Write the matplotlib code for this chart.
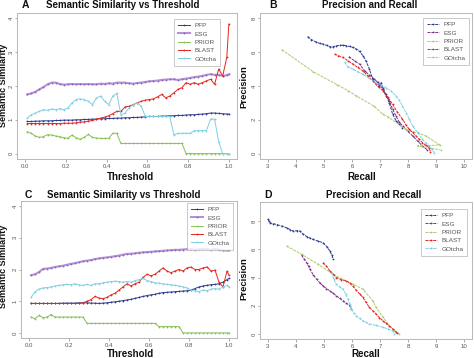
import numpy as np
import matplotlib
matplotlib.use("Agg")
import matplotlib.pyplot as plt

plt.rcParams['font.family'] = ['Liberation Sans', 'DejaVu Sans']

methods = ["PFP", "ESG", "PRIOR", "BLAST", "GOtcha"]

threshold = [0.01, 0.03, 0.05, 0.07, 0.09, 0.11, 0.13, 0.15, 0.17, 0.19,
             0.21, 0.23, 0.25, 0.27, 0.29, 0.31, 0.33, 0.35, 0.37, 0.39,
             0.41, 0.43, 0.45, 0.47, 0.49, 0.51, 0.53, 0.55, 0.57, 0.59,
             0.61, 0.63, 0.65, 0.67, 0.69, 0.71, 0.73, 0.75, 0.77, 0.79,
             0.81, 0.83, 0.85, 0.87, 0.89, 0.91, 0.93, 0.95, 0.97, 0.99, 1.00]

# ---- Panel A: semantic similarity vs threshold ----
A_PFP = [0.95, 0.95, 0.96, 0.96, 0.97, 0.97, 0.97, 0.98, 0.98, 0.99,
         0.99, 0.99, 1.00, 1.00, 1.01, 1.01, 1.02, 1.02, 1.03, 1.03,
         1.04, 1.04, 1.05, 1.05, 1.06, 1.06, 1.07, 1.07, 1.08, 1.09,
         1.10, 1.10, 1.10, 1.11, 1.11, 1.12, 1.12, 1.13, 1.13, 1.14,
         1.15, 1.15, 1.16, 1.17, 1.18, 1.20, 1.20, 1.19, 1.18, 1.17, 1.17]
A_ESG = [1.75, 1.78, 1.83, 1.90, 1.97, 2.05, 2.10, 2.10, 2.06, 2.04,
         2.05, 2.06, 2.05, 2.06, 2.05, 2.06, 2.05, 2.05, 2.07, 2.06,
         2.08, 2.07, 2.10, 2.10, 2.10, 2.08, 2.07, 2.09, 2.10, 2.12,
         2.14, 2.15, 2.16, 2.18, 2.19, 2.20, 2.20, 2.18, 2.20, 2.22,
         2.24, 2.26, 2.28, 2.30, 2.33, 2.35, 2.33, 2.33, 2.30, 2.32, 2.35]
A_PRIOR = [0.65, 0.60, 0.52, 0.48, 0.50, 0.56, 0.55, 0.52, 0.50, 0.47,
           0.45, 0.55, 0.47, 0.42, 0.48, 0.57, 0.48, 0.46, 0.45, 0.45,
           0.45, 0.60, 0.60, 0.30, 0.30, 0.30, 0.30, 0.30, 0.30, 0.30,
           0.30, 0.30, 0.30, 0.30, 0.30, 0.30, 0.30, 0.30, 0.30, 0.00,
           0.00, 0.00, 0.00, 0.00, 0.00, 0.00, 0.00, 0.00, 0.00, 0.00, 0.00]
A_BLAST = [0.89, 0.89, 0.89, 0.89, 0.89, 0.89, 0.89, 0.89, 0.89, 0.90,
           0.90, 0.90, 0.91, 0.93, 0.94, 0.96, 0.98, 1.02, 1.05, 1.08,
           1.12, 1.18, 1.25, 1.25, 1.38, 1.40, 1.45, 1.50, 1.55, 1.58,
           1.60, 1.62, 1.68, 1.75, 1.65, 1.70, 1.80, 1.90, 1.95, 2.10,
           2.05, 2.10, 2.05, 2.10, 2.15, 2.20, 2.05, 2.50, 2.30, 2.85, 3.83]
A_GOtcha = [1.05, 1.15, 1.20, 1.25, 1.30, 1.28, 1.32, 1.30, 1.33, 1.30,
            1.35, 1.50, 1.60, 1.62, 1.60, 1.55, 1.45, 1.65, 1.70, 1.55,
            1.45, 1.70, 1.78, 1.15, 1.20, 1.35, 1.45, 1.50, 1.40, 1.10,
            1.10, 1.10, 1.10, 1.10, 1.10, 1.10, 0.55, 0.60, 0.60, 0.60,
            0.60, 0.68, 0.68, 0.68, 0.68, 1.02, 1.02, 0.35, 0.00, 0.00, 0.00]

# ---- Panel C: semantic similarity vs threshold ----
C_PFP = [0.93, 0.93, 0.93, 0.93, 0.93, 0.93, 0.93, 0.93, 0.94, 0.94,
         0.94, 0.94, 0.95, 0.95, 0.95, 0.94, 0.94, 0.93, 0.94, 0.95,
         0.97, 0.98, 1.00, 1.02, 1.04, 1.06, 1.09, 1.12, 1.15, 1.18,
         1.20, 1.22, 1.25, 1.27, 1.28, 1.29, 1.30, 1.31, 1.32, 1.33,
         1.35, 1.40, 1.45, 1.48, 1.50, 1.52, 1.53, 1.55, 1.60, 1.68, 1.72]
C_ESG = [1.82, 1.85, 1.92, 2.02, 2.03, 2.05, 2.08, 2.10, 2.12, 2.15,
         2.18, 2.20, 2.23, 2.26, 2.28, 2.30, 2.33, 2.35, 2.37, 2.38,
         2.40, 2.42, 2.44, 2.47, 2.49, 2.50, 2.51, 2.53, 2.54, 2.55,
         2.56, 2.57, 2.58, 2.59, 2.60, 2.61, 2.62, 2.62, 2.63, 2.64,
         2.64, 2.63, 2.64, 2.65, 2.64, 2.63, 2.65, 2.63, 2.60, 2.60, 2.60]
C_PRIOR = [0.50, 0.45, 0.55, 0.48, 0.50, 0.58, 0.50, 0.50, 0.50, 0.50,
           0.50, 0.50, 0.50, 0.50, 0.30, 0.30, 0.30, 0.30, 0.30, 0.30,
           0.30, 0.30, 0.30, 0.30, 0.30, 0.30, 0.30, 0.30, 0.30, 0.30,
           0.30, 0.30, 0.20, 0.20, 0.20, 0.20, 0.20, 0.20, 0.00, 0.00,
           0.00, 0.00, 0.00, 0.00, 0.00, 0.00, 0.00, 0.00, 0.00, 0.00, 0.00]
C_BLAST = [0.93, 0.93, 0.93, 0.93, 0.93, 0.93, 0.93, 0.93, 0.93, 0.93,
           0.93, 0.93, 0.93, 0.95, 1.00, 1.05, 1.15, 1.10, 1.08, 1.12,
           1.20, 1.25, 1.35, 1.45, 1.55, 1.48, 1.55, 1.60, 1.75, 1.85,
           1.80, 1.85, 1.95, 2.05, 1.95, 1.90, 1.95, 2.00, 1.95, 2.05,
           2.08, 2.00, 2.00, 2.05, 2.08, 1.95, 1.98, 1.60, 1.45, 1.95, 1.82]
C_GOtcha = [1.12, 1.30, 1.38, 1.42, 1.43, 1.45, 1.48, 1.50, 1.52, 1.53,
            1.52, 1.55, 1.52, 1.50, 1.53, 1.50, 1.55, 1.55, 1.58, 1.60,
            1.62, 1.63, 1.62, 1.60, 1.62, 1.60, 1.65, 1.68, 1.72, 1.65,
            1.62, 1.58, 1.57, 1.55, 1.53, 1.52, 1.50, 1.48, 1.45, 1.42,
            1.35, 1.32, 1.30, 1.35, 1.33, 1.38, 1.40, 1.38, 1.45, 1.50, 1.45]

# ---- Panel B: precision and recall ----
B_PFP_rec = [4.42, 4.55, 4.70, 4.85, 4.97, 5.10, 5.21, 5.33, 5.44, 5.56, 5.68, 5.80, 5.92, 6.03, 6.15, 6.27,
             6.39, 6.50, 6.62, 6.74, 6.86, 6.92, 6.98, 7.04, 7.10, 7.21, 7.33, 7.45, 7.57, 7.69, 7.80]
B_PFP_prec = [6.92, 6.75, 6.62, 6.52, 6.48, 6.40, 6.32, 6.33, 6.38, 6.40, 6.42, 6.38, 6.34, 6.28, 6.19, 6.05,
              5.80, 5.49, 5.00, 4.40, 4.10, 4.25, 3.95, 4.20, 3.90, 3.50, 3.00, 2.33, 1.95, 1.74, 1.54]
B_ESG_rec = [5.89, 6.09, 6.27, 6.45, 6.62, 6.80, 6.98, 7.10, 7.21, 7.33, 7.45, 7.57, 7.69, 7.81, 7.98, 8.16,
             8.34, 8.51, 8.69]
B_ESG_prec = [5.73, 5.49, 5.30, 4.90, 4.64, 4.41, 4.11, 3.81, 3.42, 3.12, 2.63, 2.23, 1.84, 1.64, 1.34, 1.05,
              0.75, 0.45, 0.22]
B_PRIOR_rec = [3.50, 4.62, 5.48, 5.86, 6.15, 6.80, 7.10, 7.27, 7.92, 8.63, 9.13, 8.34, 9.16]
B_PRIOR_prec = [6.15, 4.84, 4.07, 3.72, 3.42, 2.79, 2.33, 2.19, 1.44, 1.05, 0.51, 0.45, 0.22]
B_BLAST_rec = [5.38, 5.50, 5.68, 5.85, 6.03, 6.20, 6.39, 6.56, 6.74, 6.92, 7.10, 7.27, 7.45, 7.62, 7.80, 7.92,
               8.04, 8.16, 8.28, 8.40, 8.51, 8.63, 8.75, 8.80]
B_BLAST_prec = [5.89, 5.80, 5.69, 5.50, 5.30, 5.10, 4.90, 4.60, 4.30, 4.00, 3.72, 3.35, 2.92, 2.45, 2.04, 1.72,
                1.44, 1.25, 1.05, 0.85, 0.65, 0.50, 0.36, 0.10]
B_GOtcha_rec = [5.74, 5.85, 6.03, 6.20, 6.39, 6.62, 6.86, 7.04, 7.21, 7.39, 7.57, 7.69, 7.80, 7.92, 8.04, 8.16,
                8.34, 8.51, 8.63, 8.75, 8.85, 8.93]
B_GOtcha_prec = [5.40, 5.15, 5.00, 4.85, 4.70, 4.45, 4.20, 4.05, 3.90, 3.70, 3.42, 3.15, 2.83, 2.43, 2.05, 1.64,
                 1.25, 0.85, 0.65, 0.45, 0.25, 0.06]

# ---- Panel D: precision and recall ----
D_PFP_rec = [3.00, 3.04, 3.08, 3.20, 3.32, 3.50, 3.67, 3.80, 3.91, 4.03, 4.15, 4.26, 4.40, 4.50, 4.62, 4.80,
             4.97, 5.10, 5.21, 5.28, 5.33]
D_PFP_prec = [8.16, 8.00, 7.88, 7.82, 7.76, 7.65, 7.53, 7.40, 7.29, 7.33, 7.29, 7.06, 6.90, 6.80, 6.70, 6.58,
              6.47, 6.20, 5.88, 5.60, 5.29]
D_ESG_rec = [4.20, 4.30, 4.38, 4.45, 4.50, 4.62, 4.74, 4.86, 4.97, 5.09, 5.21, 5.33, 5.44, 5.56, 5.68, 5.80,
             5.92, 5.98]
D_ESG_prec = [5.58, 5.30, 5.06, 4.80, 4.59, 4.20, 3.88, 3.62, 3.41, 3.22, 3.06, 2.88, 2.71, 2.52, 2.35, 2.18,
              2.00, 1.76]
D_PRIOR_rec = [3.67, 4.20, 4.79, 5.33, 5.62, 6.03, 6.39, 6.74, 6.86, 7.10, 7.33, 7.51, 7.69]
D_PRIOR_prec = [6.24, 5.65, 4.94, 4.24, 3.93, 3.53, 3.18, 2.35, 1.88, 1.20, 0.59, 0.25, 0.00]
D_BLAST_rec = [4.97, 5.09, 5.21, 5.33, 5.44, 5.62, 5.80, 5.92, 6.03, 6.15, 6.27, 6.39, 6.50, 6.62, 6.74, 6.86,
               6.98, 7.10, 7.21, 7.33, 7.45, 7.57, 7.62]
D_BLAST_prec = [5.06, 4.80, 4.47, 4.25, 4.00, 3.85, 3.76, 3.60, 3.41, 3.10, 2.85, 2.59, 2.25, 1.88, 1.65, 1.41,
                1.15, 0.94, 0.75, 0.59, 0.35, 0.12, 0.05]
D_GOtcha_rec = [5.27, 5.35, 5.44, 5.56, 5.68, 5.77, 5.86, 5.92, 5.98, 6.06, 6.15, 6.27, 6.39, 6.50, 6.62, 6.86,
                7.10, 7.30, 7.45, 7.51]
D_GOtcha_prec = [4.35, 3.90, 3.53, 3.35, 3.18, 2.85, 2.47, 2.10, 1.76, 1.50, 1.29, 1.10, 0.94, 0.82, 0.71, 0.60,
                 0.47, 0.35, 0.24, 0.02]

thr_xticks = [0.0, 0.2, 0.4, 0.6, 0.8, 1.0]
thr_yticks = [0, 1, 2, 3, 4]
rec_xticks = [3, 4, 5, 6, 7, 8, 9, 10]
prec_yticks = [0, 2, 4, 6, 8]

col_ss = {"PFP": "#2b3a8f", "ESG": "#b592d8", "PRIOR": "#86c24f", "BLAST": "#e3261f", "GOtcha": "#7fd0e2"}
col_pr = {"PFP": "#2b3a8f", "ESG": "#7d2f8e", "PRIOR": "#a9cc6e", "BLAST": "#e3261f", "GOtcha": "#7fd0e2"}

W, H = 474, 358
fig = plt.figure(figsize=(W / 100, H / 100), dpi=100)
fig.patch.set_facecolor("white")


def px_axes(l, t, r, b):
    return fig.add_axes([l / W, 1 - b / H, (r - l) / W, (b - t) / H])


def style(ax, xt, yt, xlabels):
    for s in ax.spines.values():
        s.set_color("#b8b8b8")
        s.set_linewidth(0.7)
    ax.set_xticks(xt)
    ax.set_xticklabels(xlabels)
    ax.set_yticks(yt)
    ax.set_yticklabels([str(v) for v in yt], rotation=90, va="center")
    ax.tick_params(labelsize=4.3, length=2, width=0.5, pad=1.5, colors="#888888", labelcolor="#555555")
    ax.tick_params(axis="y", length=1.5, pad=0.7)


def legend(ax, handles, right, top):
    lg = ax.legend(handles, methods, loc="upper right", bbox_to_anchor=(right / W, 1 - top / H),
                   bbox_transform=fig.transFigure, borderaxespad=0, fontsize=4.6, frameon=True,
                   fancybox=False, edgecolor="#b0b0b0", handlelength=2.0, handletextpad=0.6,
                   labelspacing=0.45, borderpad=0.6, numpoints=1)
    lg.get_frame().set_linewidth(0.6)
    for t in lg.get_texts():
        t.set_color("#555555")


def ss_panel(ax, data):
    handles = []
    for m in methods:
        lw = 1.5 if m == "ESG" else 0.7
        mc = "#8a63b8" if m == "ESG" else col_ss[m]
        h, = ax.plot(threshold, data[m], color=col_ss[m], lw=lw, marker="o", ms=1.3,
                     mfc=mc, mec=mc, mew=0)
        handles.append(h)
    ax.set_xlim(-0.04, 1.04)
    style(ax, thr_xticks, thr_yticks, ["0.0", "0.2", "0.4", "0.6", "0.8", "1.0"])
    return handles


def pr_panel(ax, data):
    handles = []
    for m in methods:
        rec, prec = data[m]
        h, = ax.plot(rec, prec, color=col_pr[m], lw=0.7, marker="o", ms=1.3, mew=0,
                     ls=(0, (3, 1)))
        handles.append(h)
    ax.set_xlim(2.72, 10.28)
    style(ax, rec_xticks, prec_yticks, [str(v) for v in rec_xticks])
    return handles


# Panel A
axA = px_axes(17, 13, 237, 159)
hA = ss_panel(axA, {"PFP": A_PFP, "ESG": A_ESG, "PRIOR": A_PRIOR, "BLAST": A_BLAST, "GOtcha": A_GOtcha})
axA.set_ylim(-0.16, 4.16)
legend(axA, hA, 220, 19)

# Panel B
axB = px_axes(260, 13, 472, 159)
hB = pr_panel(axB, {"PFP": (B_PFP_rec, B_PFP_prec), "ESG": (B_ESG_rec, B_ESG_prec),
                    "PRIOR": (B_PRIOR_rec, B_PRIOR_prec), "BLAST": (B_BLAST_rec, B_BLAST_prec),
                    "GOtcha": (B_GOtcha_rec, B_GOtcha_prec)})
axB.set_ylim(-0.32, 8.32)
legend(axB, hB, 469, 18)

# Panel C
axC = px_axes(21, 201, 237, 338)
hC = ss_panel(axC, {"PFP": C_PFP, "ESG": C_ESG, "PRIOR": C_PRIOR, "BLAST": C_BLAST, "GOtcha": C_GOtcha})
axC.set_ylim(-0.16, 4.16)
legend(axC, hC, 233, 203)

# Panel D
axD = px_axes(260, 202, 472, 339)
hD = pr_panel(axD, {"PFP": (D_PFP_rec, D_PFP_prec), "ESG": (D_ESG_rec, D_ESG_prec),
                    "PRIOR": (D_PRIOR_rec, D_PRIOR_prec), "BLAST": (D_BLAST_rec, D_BLAST_prec),
                    "GOtcha": (D_GOtcha_rec, D_GOtcha_prec)})
axD.set_ylim(-0.36, 9.36)
legend(axD, hD, 467, 209)


def ftext(x, y, s, **kw):
    fig.text(x / W, 1 - y / H, s, **kw)


bold = dict(fontweight="bold", color="#111111")
# titles and letters
ftext(123, 8.5, "Semantic Similarity vs Threshold", fontsize=7, ha="center", va="baseline", **bold)
ftext(22, 8.5, "A", fontsize=7.5, ha="left", va="baseline", **bold)
ftext(370, 8.5, "Precision and Recall", fontsize=7, ha="center", va="baseline", **bold)
ftext(269, 8.5, "B", fontsize=7.5, ha="left", va="baseline", **bold)
ftext(124, 198, "Semantic Similarity vs Threshold", fontsize=7, ha="center", va="baseline", **bold)
ftext(25, 198, "C", fontsize=7.5, ha="left", va="baseline", **bold)
ftext(374, 198.5, "Precision and Recall", fontsize=7, ha="center", va="baseline", **bold)
ftext(264, 198.5, "D", fontsize=7.5, ha="left", va="baseline", **bold)

# axis labels
ftext(130, 179.5, "Threshold", fontsize=7, ha="center", va="baseline", **bold)
ftext(362, 180, "Recall", fontsize=7, ha="center", va="baseline", **bold)
ftext(130, 357, "Threshold", fontsize=7, ha="center", va="baseline", **bold)
ftext(366, 357, "Recall", fontsize=7, ha="center", va="baseline", **bold)
ftext(3.2, 85, "Semantic Similarity", fontsize=6.5, ha="center", va="center", rotation=90, **bold)
ftext(3.2, 266, "Semantic Similarity", fontsize=6.5, ha="center", va="center", rotation=90, **bold)
ftext(244, 87, "Precision", fontsize=6.8, ha="center", va="center", rotation=90, **bold)
ftext(244, 279, "Precision", fontsize=6.8, ha="center", va="center", rotation=90, **bold)

fig.savefig("out.png", dpi=100, facecolor="white")
